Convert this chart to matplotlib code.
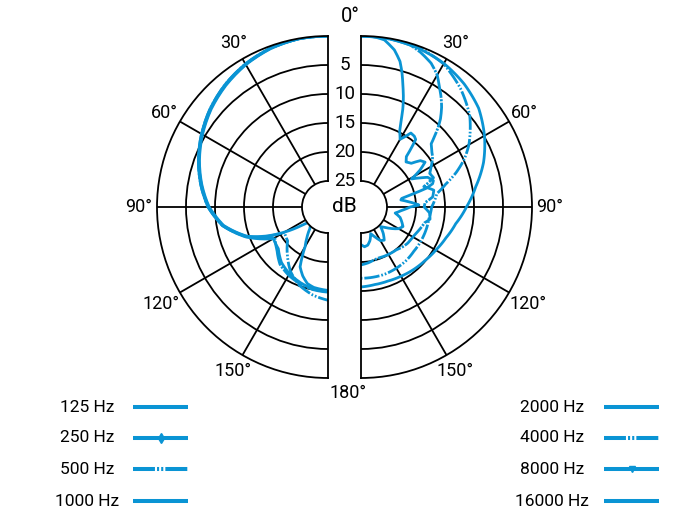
import numpy as np
import matplotlib
matplotlib.use("Agg")
import matplotlib.pyplot as plt
from matplotlib.lines import Line2D
from matplotlib import transforms

plt.rcParams['font.family'] = ['Roboto', 'DejaVu Sans']
plt.rcParams['lines.scale_dashes'] = False

blue = '#0a94d4'

# --- low frequencies (left half), angle in degrees, attenuation in dB ---
ang_125 = [0, 10, 20, 30, 40, 50, 60, 70, 80, 90, 100, 110, 115, 120, 130, 140, 150, 160, 170, 180]
db_125 = [0, 0.05, 0.35, 1.0, 1.9, 3.0, 4.3, 5.7, 7.2, 8.8, 11.0, 14.4, 16.5, 18.6, 18.3, 17.0, 16.2, 15.6, 15.1, 14.9]

ang_250 = [0, 10, 20, 30, 40, 50, 60, 70, 80, 90, 100, 110, 115, 120, 130, 140, 150, 160, 170, 180]
db_250 = [0, 0.05, 0.4, 1.1, 2.0, 3.1, 4.4, 5.8, 7.3, 8.9, 11.1, 14.6, 16.9, 18.9, 18.0, 16.6, 15.9, 15.4, 15.0, 14.8]

ang_500 = [0, 10, 20, 30, 40, 50, 60, 70, 80, 90, 100, 110, 115, 120, 130, 140, 150, 160, 170, 180]
db_500 = [0, 0.05, 0.35, 1.0, 1.9, 3.0, 4.3, 5.7, 7.2, 8.8, 11.0, 14.5, 17.2, 20.8, 20.4, 18.6, 16.6, 15.1, 14.1, 13.4]

ang_1000 = [0, 10, 20, 30, 40, 50, 60, 70, 80, 90, 100, 110, 115, 120, 125, 130, 135, 140, 145, 150,
            155, 160, 165, 170, 180]
db_1000 = [0, 0.05, 0.45, 1.15, 2.1, 3.2, 4.5, 5.9, 7.4, 9.0, 11.2, 14.7, 17.6, 20.8, 24.0, 26.0, 25.3, 24.6, 23.2,
           21.6, 18.1, 16.8, 15.8, 15.4, 15.1]

# --- high frequencies (right half) ---
ang_2000 = [0, 10, 20, 30, 40, 50, 60, 70, 80, 90, 100, 110, 120, 130, 140, 150, 160, 170, 180]
db_2000 = [0, 0.1, 0.4, 0.9, 1.8, 3.0, 4.9, 7.0, 9.4, 11.3, 12.9, 13.9, 14.6, 15.1, 15.4, 15.7, 15.9, 15.9, 15.7]

ang_4000 = [0, 10, 20, 30, 40, 50, 55, 60, 65, 70, 75, 80, 90, 100, 110, 120, 130, 140, 150, 160, 170, 180]
db_4000 = [0, 0.05, 0.2, 1.0, 2.8, 5.0, 6.5, 8.0, 9.8, 12.0, 14.4, 16.2, 17.3, 17.6, 17.6, 17.6, 17.6, 17.4, 17.3,
           17.2, 17.2, 17.2]

ang_8000 = [0, 10, 17, 21, 26, 30, 33, 36, 39, 42, 44, 46, 48, 52, 55, 60, 64, 68, 72, 77,
            82, 86, 90, 95, 100, 104, 110, 116, 122, 128, 135, 140, 147, 155, 160, 166, 172, 180]
db_8000 = [0, 0.1, 0.3, 0.9, 1.9, 3.2, 4.7, 6.0, 7.4, 9.0, 10.3, 11.8, 13.2, 14.0, 14.4, 15.5, 16.3, 16.0, 18.1, 16.6,
           17.0, 18.4, 18.6, 17.6, 17.4, 18.2, 18.6, 19.0, 19.2, 19.3, 19.6, 19.9, 20.0, 20.1, 20.2, 20.1, 19.8, 19.5]

ang_16000 = [0, 5, 8, 12, 15, 17, 19, 21, 23, 25, 27, 30, 32, 34, 37, 39, 42, 45, 49, 52,
             55, 58, 61, 64, 66, 70, 72, 74, 76, 78, 80, 83, 86, 88, 90, 95, 100, 105, 110, 115,
             120, 125, 130, 135, 140, 145, 150, 155, 160, 165, 170, 175, 180]
db_16000 = [0, 0.1, 0.4, 1.8, 3.5, 5.3, 7.3, 9.1, 11.0, 13.2, 14.8, 16.0, 15.2, 14.1, 14.2, 14.5, 17.8, 18.5, 18.0,
            16.5, 16.0, 17.5, 19.5, 18.0, 16.9, 16.2, 16.5, 17.8, 20.5, 22.3, 22.5, 21.5, 20.3, 19.5, 21.0, 22.5,
            23.5, 22.5, 22.0, 21.5, 22.0, 23.0, 24.0, 24.7, 23.5, 22.5, 22.8, 23.8, 24.6, 23.5, 22.8, 22.6, 23.0]

angle_ticks = [30, 60, 90, 120, 150]
db_ticks = [5, 10, 15, 20, 25]

solid = '-'
dashdotdot = (0, (11, 1.4, 1.2, 1.4, 1.2, 1.4))
dashmark = (0, (18, 1.0, 1.5, 1.0))

low = [('125 Hz', ang_125, db_125, solid, None),
       ('250 Hz', ang_250, db_250, dashmark, 'd'),
       ('500 Hz', ang_500, db_500, dashdotdot, None),
       ('1000 Hz', ang_1000, db_1000, solid, None)]
high = [('2000 Hz', ang_2000, db_2000, solid, None),
        ('4000 Hz', ang_4000, db_4000, dashdotdot, None),
        ('8000 Hz', ang_8000, db_8000, dashmark, 'v'),
        ('16000 Hz', ang_16000, db_16000, solid, None)]

W, H = 689, 528
R = 171          # outer radius in px
CY = 207         # centre height (from top) in px
HUB = 26         # radius of the 25 dB ring in px
rorigin = -25 - HUB / ((R - HUB) / 25)

fig = plt.figure(figsize=(W / 100, H / 100), dpi=100)


def half_axes(cx, side):
    frac = 0.75 if side == 'left' else 0.25
    left = cx - frac * 2 * R
    ax = fig.add_axes([left / W, (H - CY - R) / H, 2 * R / W, 2 * R / H], projection='polar')
    ax.set_theta_zero_location('N')
    ax.set_theta_direction(1 if side == 'left' else -1)
    ax.set_thetamin(0)
    ax.set_thetamax(180)
    ax.set_rlim(-25, 0)
    ax.set_rorigin(rorigin)
    ax.set_xticks(np.radians(angle_ticks))
    ax.set_yticks([-d for d in db_ticks[:-1]])
    ax.tick_params(labelbottom=False, labelleft=False, labeltop=False, labelright=False, length=0)
    ax.grid(True, color='black', lw=1.3)
    for s in ax.spines.values():
        s.set_color('black')
        s.set_linewidth(1.3)
    ax.patch.set_alpha(0)
    for a in angle_ticks:
        rr = 3.8 if a == 120 else 3.1
        ax.text(np.radians(a), rr, f'{a}°', ha='center', va='center', fontsize=13, clip_on=False)
    return ax


ax_l = half_axes(328, 'left')
ax_r = half_axes(361, 'right')

for ax, curves in [(ax_l, low), (ax_r, high)]:
    for name, ang, db, ls, mk in curves:
        ln, = ax.plot(np.radians(ang), -np.array(db), color=blue, lw=2.0, ls=ls,
                      solid_joinstyle='round', dash_joinstyle='round')
        ln.get_path()._interpolation_steps = 12

# dB scale in the gap
tr = transforms.offset_copy(ax_r.transData, fig=fig, x=-16.5, y=0, units='dots')
for d in db_ticks:
    ax_r.text(0, -d, str(d), transform=tr, ha='center', va='center', fontsize=13.5)
ax_r.text(0, rorigin, 'dB', transform=tr, ha='center', va='center', fontsize=15)

fig.text(350 / W, 1 - 16 / H, '0°', ha='center', va='center', fontsize=14.5)
fig.text(348 / W, 1 - 393 / H, '180°', ha='center', va='center', fontsize=13)

# legend
rows_y = [407, 438, 469, 501]
for col, (tx, x0, x1) in zip([low, high], [(87, 133, 188), (552, 604, 659)]):
    for (name, ang, db, ls, mk), y in zip(col, rows_y):
        yf = 1 - y / H
        fig.text(tx / W, yf, name, ha='center', va='center', fontsize=12.5)
        if ls == dashdotdot:
            lstyle = (0, (15.8, 1.5, 1.5, 1.5, 1.5, 1.5))
        else:
            lstyle = '-'
        xs = [x0 / W, (x0 + x1) / 2 / W, x1 / W]
        line = Line2D(xs, [yf] * 3, transform=fig.transFigure, color=blue, lw=2.9, ls=lstyle,
                      solid_capstyle='butt', dash_capstyle='butt')
        if mk is not None:
            line.set_marker(mk)
            line.set_markevery([1])
            line.set_markersize(5)
        fig.add_artist(line)

fig.savefig('out.png', dpi=100)
